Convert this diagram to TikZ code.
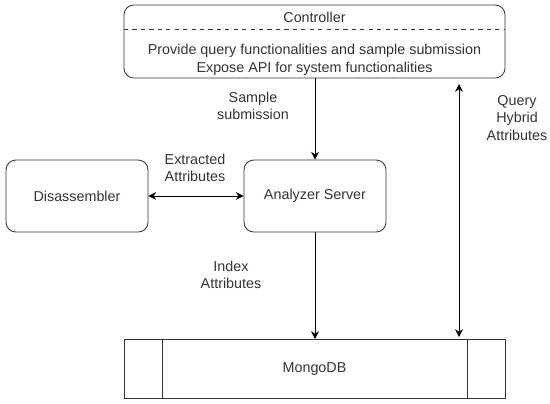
\documentclass[tikz,border=0pt]{standalone}
\usepackage{fontspec}
\setmainfont{Liberation Sans}
\usetikzlibrary{positioning,arrows.meta}

\tikzset{
    block/.style={draw=black!80, rounded corners=7pt, line width=0.6pt,
        minimum width=142\pxu, minimum height=72\pxu, font=\fontsize{10.2}{12}\selectfont},
    lbl/.style={align=center, font=\fontsize{10.2}{12.5}\selectfont, text=black!80},
    link/.style={draw=black, line width=0.6pt, -{Stealth[length=5.5pt,width=5.5pt]}},
    twolink/.style={link, {Stealth[length=5.5pt,width=5.5pt]}-{Stealth[length=5.5pt,width=5.5pt]}}
}
\newcommand{\pxu}{*0.025cm}

\begin{document}
\begin{tikzpicture}[x=0.025cm, y=-0.025cm, text=black!80]
    \useasboundingbox (0, 0) rectangle (550, 403);

    % controller
    \draw[black!80, line width=0.6pt, rounded corners=7pt] (124, 5) rectangle (505, 78);
    \draw[black!80, dashed, line width=0.5pt] (124, 29) -- (505, 29);
    \node[lbl] (ctrl) at (314.5, 17) {Controller};
    \node[lbl, align=center] (ctrltext) at (314.5, 60)
        {Provide query functionalities and sample submission\\Expose API for system functionalities};
    \coordinate (ctrlB) at (315, 78);
    \coordinate (ctrlQ) at (459, 84);

    \node[block] (disasm) at (77, 196) {Disassembler};
    \node[block] (analyzer) at (315, 196) {Analyzer Server};

    % database
    \draw[black!80, line width=0.6pt] (124, 339) rectangle (505, 398);
    \draw[black!80, line width=0.6pt] (162, 339) -- (162, 398);
    \draw[black!80, line width=0.6pt] (467, 339) -- (467, 398);
    \node[lbl] (mongo) at (314.5, 369) {MongoDB};
    \coordinate (mongoT) at (315, 339);
    \coordinate (mongoQ) at (459, 337);

    \draw[link] (ctrlB) -- (analyzer.north);
    \draw[twolink] (disasm.east) -- (analyzer.west);
    \draw[link] (analyzer.south) -- (mongoT);
    \draw[twolink] (ctrlQ) -- (mongoQ);

    \node[lbl] (sample) at (253, 106) {Sample\\submission};
    \node[lbl] (extract) at (195, 168) {Extracted\\Attributes};
    \node[lbl] (index) at (231, 275) {Index\\Attributes};
    \node[lbl] (query) at (517, 118) {Query\\Hybrid\\Attributes};
\end{tikzpicture}
\end{document}
